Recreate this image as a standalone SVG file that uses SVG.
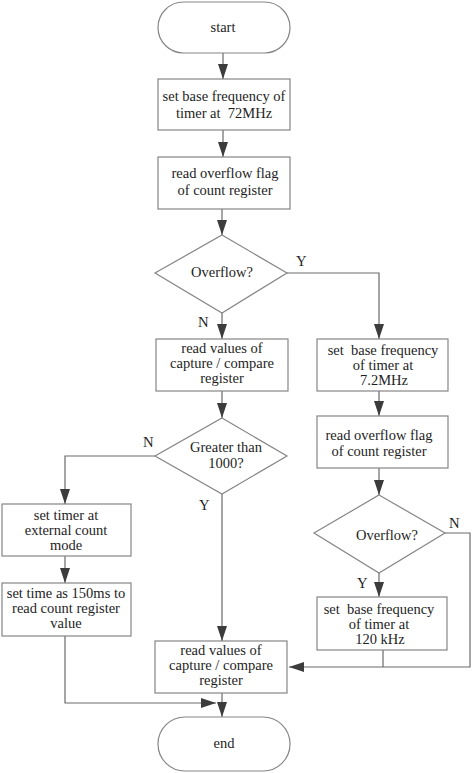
<svg xmlns="http://www.w3.org/2000/svg" width="473" height="773" viewBox="0 0 473 773">
<style>
.n{fill:#fff;stroke:#858585;stroke-width:1.2}
.t{font-family:"Liberation Serif","Times New Roman",serif;font-size:14.5px;fill:#1e1e1e;text-anchor:middle;white-space:pre}
.l{font-family:"Liberation Serif","Times New Roman",serif;font-size:14.7px;fill:#1e1e1e}
.c{fill:none;stroke:#6a6a6a;stroke-width:1.2}
</style>
<defs>
<marker id="a" markerUnits="userSpaceOnUse" markerWidth="16" markerHeight="12" viewBox="0 0 16 12" refX="15" refY="6" orient="auto">
<path d="M0,1 L15,6 L0,11 Z" fill="#3c3c3c"/>
</marker>
</defs>
<rect width="473" height="773" fill="#fff"/>
<g id="connectors">
<path class="c" d="M223,53 V79" marker-end="url(#a)"/>
<path class="c" d="M223,130 V157" marker-end="url(#a)"/>
<path class="c" d="M222,209 V235" marker-end="url(#a)"/>
<path class="c" d="M287,273 H379 V339" marker-end="url(#a)"/>
<path class="c" d="M222,313 V339" marker-end="url(#a)"/>
<path class="c" d="M222,391 V418" marker-end="url(#a)"/>
<path class="c" d="M155,456 H65 V504" marker-end="url(#a)"/>
<path class="c" d="M65,556 V583" marker-end="url(#a)"/>
<path class="c" d="M65,636 V703 H216" marker-end="url(#a)"/>
<path class="c" d="M222,494 V641" marker-end="url(#a)"/>
<path class="c" d="M379,391 V416" marker-end="url(#a)"/>
<path class="c" d="M379,468 V495" marker-end="url(#a)"/>
<path class="c" d="M379,573 V597" marker-end="url(#a)"/>
<path class="c" d="M445,533 H470 V667 H289" marker-end="url(#a)"/>
<path class="c" d="M383,650 V667"/>
<path class="c" d="M222,693 V717" marker-end="url(#a)"/>
</g>
<g id="start">
<rect class="n" x="158" y="2" width="132" height="51" rx="25.5"/>
<text class="t" x="223" y="32">start</text>
</g>
<g id="set72">
<rect class="n" x="158" y="79" width="132" height="51"/>
<text class="t" x="224" y="101">set base frequency of</text>
<text class="t" x="224" y="118">timer at  72MHz</text>
</g>
<g id="readflag1">
<rect class="n" x="158" y="157" width="132" height="52"/>
<text class="t" x="225" y="178">read overflow flag</text>
<text class="t" x="225" y="195">of count register</text>
</g>
<g id="overflow1">
<polygon class="n" points="222,235 287,273 222,313 155,273"/>
<text class="t" x="222" y="277">Overflow?</text>
</g>
<g id="readcap1">
<rect class="n" x="156" y="339" width="132" height="52"/>
<text class="t" x="222" y="353">read values of</text>
<text class="t" x="222" y="368">capture / compare</text>
<text class="t" x="222" y="383">register</text>
</g>
<g id="set72M">
<rect class="n" x="317" y="339" width="131" height="52"/>
<text class="t" x="383" y="355">set  base frequency</text>
<text class="t" x="383" y="370">of timer at</text>
<text class="t" x="384" y="385">7.2MHz</text>
</g>
<g id="greater">
<polygon class="n" points="222,418 287,456 222,494 155,456"/>
<text class="t" x="226" y="452">Greater than</text>
<text class="t" x="226" y="468">1000?</text>
</g>
<g id="readflag2">
<rect class="n" x="317" y="416" width="131" height="52"/>
<text class="t" x="379" y="440">read overflow flag</text>
<text class="t" x="379" y="456">of count register</text>
</g>
<g id="extcount">
<rect class="n" x="2" y="504" width="129" height="52"/>
<text class="t" x="66" y="520">set timer at</text>
<text class="t" x="66" y="535">external count</text>
<text class="t" x="66" y="550">mode</text>
</g>
<g id="overflow2">
<polygon class="n" points="379,495 445,533 379,573 314,533"/>
<text class="t" x="387" y="540">Overflow?</text>
</g>
<g id="set150">
<rect class="n" x="2" y="583" width="129" height="53"/>
<text class="t" x="66" y="598">set time as 150ms to</text>
<text class="t" x="66" y="613">read count register</text>
<text class="t" x="66" y="628">value</text>
</g>
<g id="set120">
<rect class="n" x="317" y="597" width="130" height="53"/>
<text class="t" x="379" y="614">set  base frequency</text>
<text class="t" x="379" y="629">of timer at</text>
<text class="t" x="380" y="644">120 kHz</text>
</g>
<g id="readcap2">
<rect class="n" x="155" y="641" width="132" height="52"/>
<text class="t" x="221" y="655">read values of</text>
<text class="t" x="221" y="670">capture / compare</text>
<text class="t" x="221" y="685">register</text>
</g>
<g id="end">
<rect class="n" x="158" y="717" width="132" height="54" rx="27"/>
<text class="t" x="224" y="748">end</text>
</g>
<g id="labels">
<text class="l" x="296" y="266">Y</text>
<text class="l" x="198" y="327">N</text>
<text class="l" x="143" y="447">N</text>
<text class="l" x="199" y="510">Y</text>
<text class="l" x="449" y="528">N</text>
<text class="l" x="357" y="588">Y</text>
</g>
</svg>
